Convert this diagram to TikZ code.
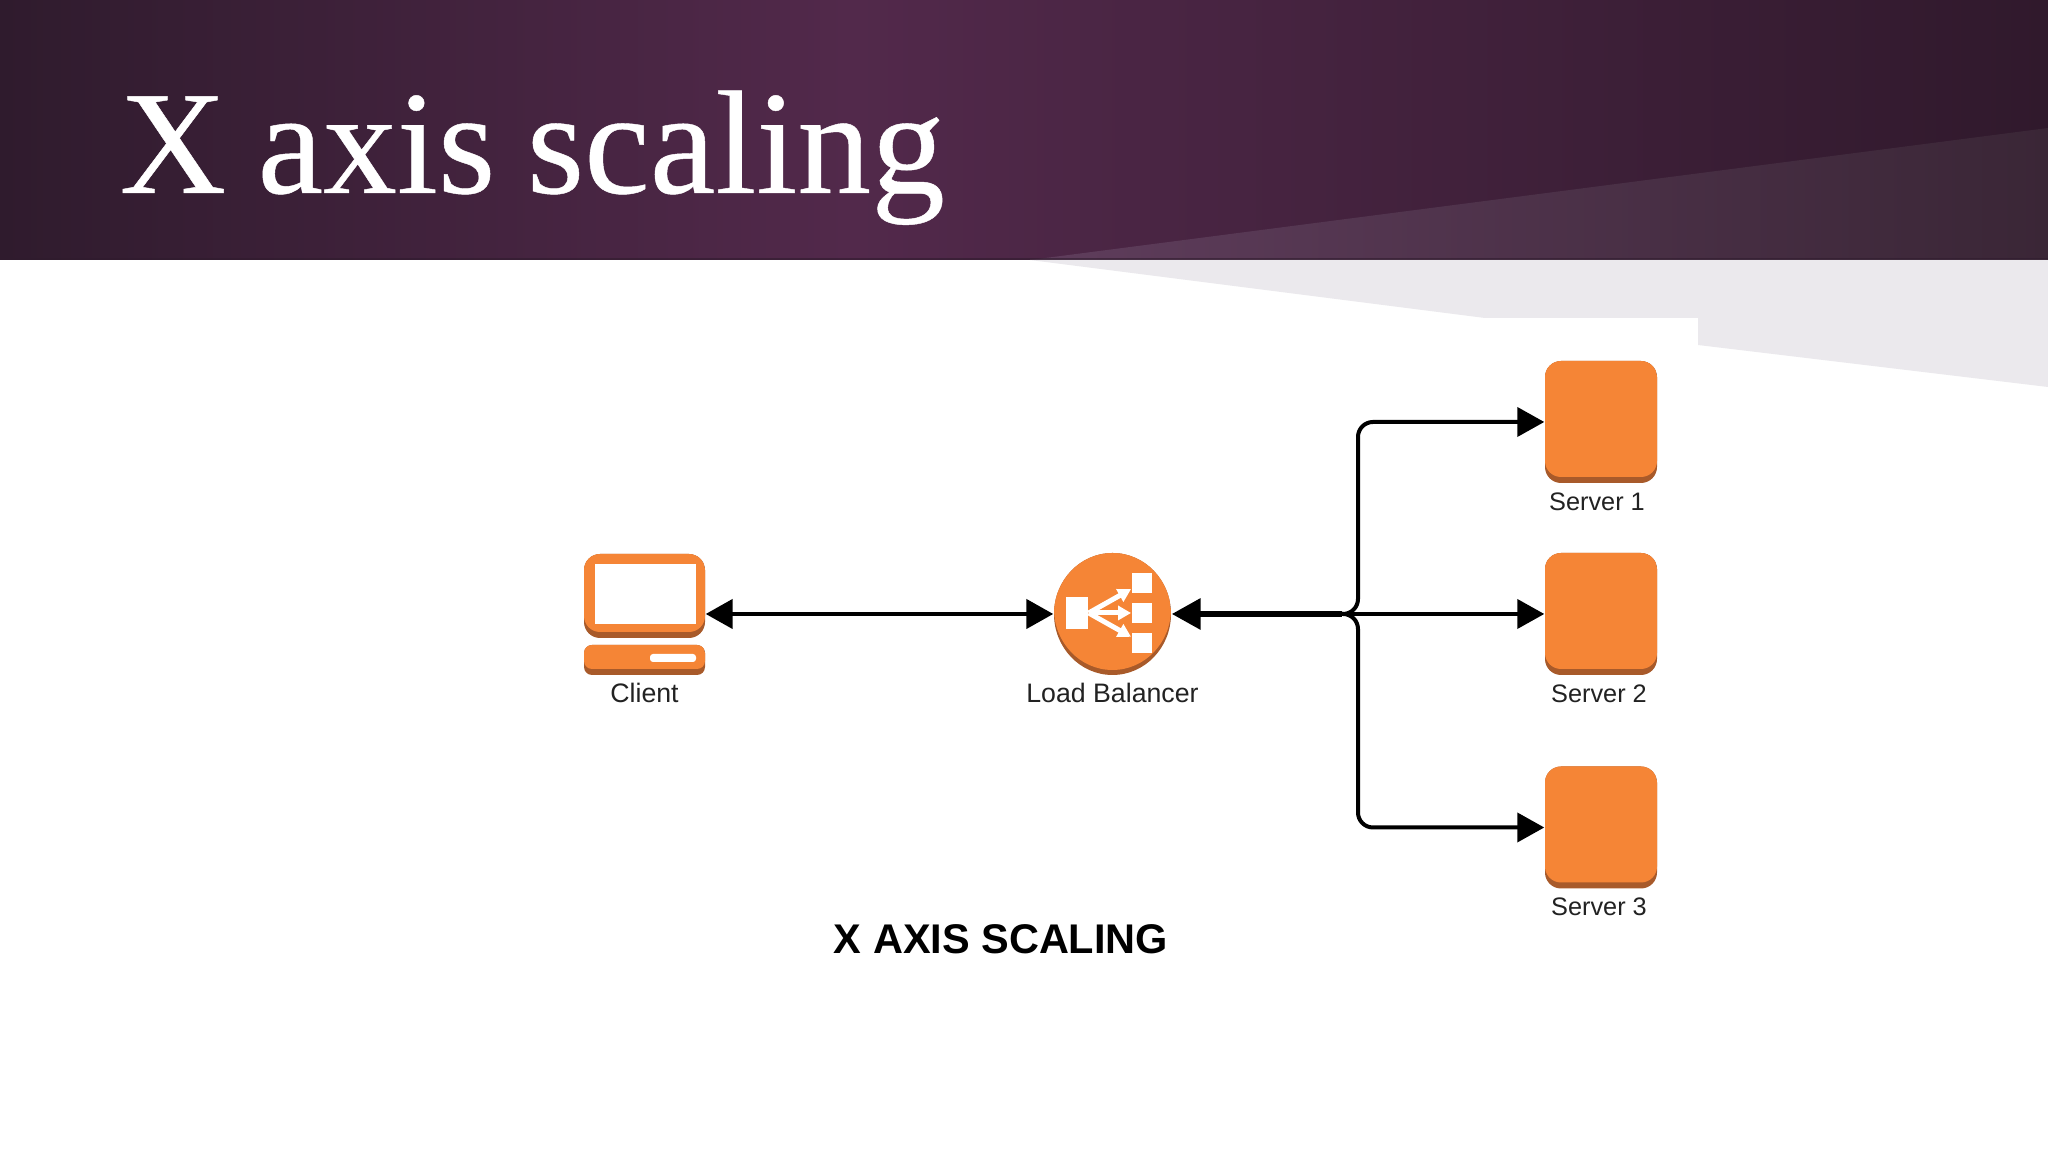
\documentclass[tikz,border=0pt]{standalone}
\usepackage{fontspec}
\setmainfont{Liberation Sans}
\newfontfamily\titlefont[WordSpace=.85,FakeBold=.3]{Liberation Serif}
\usetikzlibrary{arrows.meta,positioning,shapes.geometric}
\definecolor{awsorange}{HTML}{F58536}
\definecolor{awsshadow}{HTML}{A85A2A}
\definecolor{bannerdark}{HTML}{2F1B2D}
\definecolor{bannermid}{HTML}{52294B}
\definecolor{bannerend}{HTML}{30192C}
\definecolor{ribbonfrom}{HTML}{5F3D5C}
\definecolor{ribbonto}{HTML}{3A2636}
\definecolor{ribbongray}{HTML}{EBE9ED}
\definecolor{labelgray}{HTML}{222222}
\tikzset{
  awsbox/.style={rectangle,inner sep=0pt,fill=awsshadow,rounded corners=#1,
    path picture={\fill[awsorange,rounded corners=#1]
      (path picture bounding box.north west) rectangle
      ([yshift=.06cm]path picture bounding box.south east);}},
  awsbox/.default=.16cm,
  server/.style={awsbox,minimum width=1.12cm,minimum height=1.22cm},
  balancer/.style={ellipse,inner sep=0pt,fill=awsshadow,minimum width=1.17cm,minimum height=1.22cm,
    path picture={\fill[awsorange] ([yshift=.05cm]path picture bounding box.center) ellipse (.585 and .61);}},
  whitebox/.style={rectangle,inner sep=0pt,fill=white},
  caption/.style={inner sep=0pt,text=labelgray,text height=.2cm,text depth=.06cm,font=\fontsize{7.2}{9}\selectfont},
  widecaption/.style={caption,font=\fontsize{7.6}{9}\selectfont},
  link/.style={line width=.045cm,{Triangle[length=.27cm,width=.29cm]}-{Triangle[length=.27cm,width=.29cm]}},
  branch/.style={line width=.04cm,rounded corners=.15cm,-{Triangle[length=.27cm,width=.29cm]}},
  trunk/.style={line width=.065cm,{Triangle[length=.29cm,width=.3cm]}-},
  lbarrow/.style={white,line width=.05cm,-{Triangle[length=.13cm,width=.14cm]}}
}
\begin{document}
\begin{tikzpicture}
  \useasboundingbox (0,0) rectangle (20.48,11.52);
  %\draw[step=1cm,gray,very thin] (0,0) grid (20,11);
  \fill[white] (0,0) rectangle (20.48,11.52);
  \shade[left color=bannerdark,right color=bannermid] (0,8.92) rectangle (8.5,11.52);
  \shade[left color=bannermid,right color=bannerend] (8.5,8.92) rectangle (20.48,11.52);
  \shade[left color=ribbonfrom,right color=ribbonto] (10.3,8.92) -- (20.48,10.24) -- (20.48,8.92) -- cycle;
  \fill[ribbongray] (10.3,8.92) -- (14.85,8.34) -- (16.98,8.34) -- (16.98,8.07) -- (20.48,7.65) -- (20.48,8.92) -- cycle;
  \fill[bannerdark,opacity=.6] (0,8.92) rectangle (20.48,8.94);
  \node[anchor=base west,inner sep=0pt,text=white,font=\titlefont\fontsize{42}{50}\selectfont] (title) at (1.19,9.59) {X axis scaling};

  \node[rectangle,inner sep=0pt,minimum width=1.21cm,minimum height=1.21cm] (client) at (6.445,5.38) {};
  \node[awsbox,minimum width=1.21cm,minimum height=.84cm] (screen) at (6.445,5.56) {};
  \node[whitebox,minimum width=1.01cm,minimum height=.6cm] (glass) at (6.455,5.58) {};
  \node[awsbox=.08cm,minimum width=1.21cm,minimum height=.3cm] (tower) at (6.445,4.92) {};
  \node[whitebox,rounded corners=.03cm,minimum width=.46cm,minimum height=.08cm] (slot) at (6.73,4.94) {};
  \node[widecaption,below=.06cm of tower] (clientlabel) {Client};

  \node[balancer] (lb) at (11.125,5.38) {};
  \node[whitebox,minimum width=.22cm,minimum height=.32cm] (lbin) at (10.77,5.39) {};
  \node[whitebox,minimum width=.205cm,minimum height=.2cm] (lbtop) at (11.42,5.69) {};
  \node[whitebox,minimum width=.205cm,minimum height=.2cm] (lbmid) at (11.42,5.39) {};
  \node[whitebox,minimum width=.205cm,minimum height=.2cm] (lbbot) at (11.42,5.09) {};
  \draw[lbarrow] (lbin.east) -- (lbtop);
  \draw[lbarrow] (lbin.east) -- (lbmid);
  \draw[lbarrow] (lbin.east) -- (lbbot);
  \node[widecaption,below=.06cm of lb] (lblabel) {Load Balancer};

  \node[server] (srv1) at (16.01,7.30) {};
  \node[server] (srv2) at (16.01,5.38) {};
  \node[server] (srv3) at (16.01,3.245) {};
  \node[caption,below=.06cm of srv1,xshift=-.04cm] (srv1label) {Server 1};
  \node[caption,below=.06cm of srv2,xshift=-.02cm] (srv2label) {Server 2};
  \node[caption,below=.06cm of srv3,xshift=-.02cm] (srv3label) {Server 3};

  \coordinate (hub) at (13.42,5.38);
  \coordinate (bendup) at (13.58,7.30);
  \coordinate (benddown) at (13.58,3.245);
  \draw[link] (client) -- (lb);
  \draw[trunk] (lb) -- (hub);
  \draw[branch] (hub) -| (bendup) -- (srv1);
  \draw[branch] (hub) -- (srv2);
  \draw[branch] (hub) -| (benddown) -- (srv3);

  \node[inner sep=0pt,text=black,font=\bfseries\fontsize{11.8}{14}\selectfont] (heading) at (10.01,2.13) {X AXIS SCALING};
\end{tikzpicture}
\end{document}
